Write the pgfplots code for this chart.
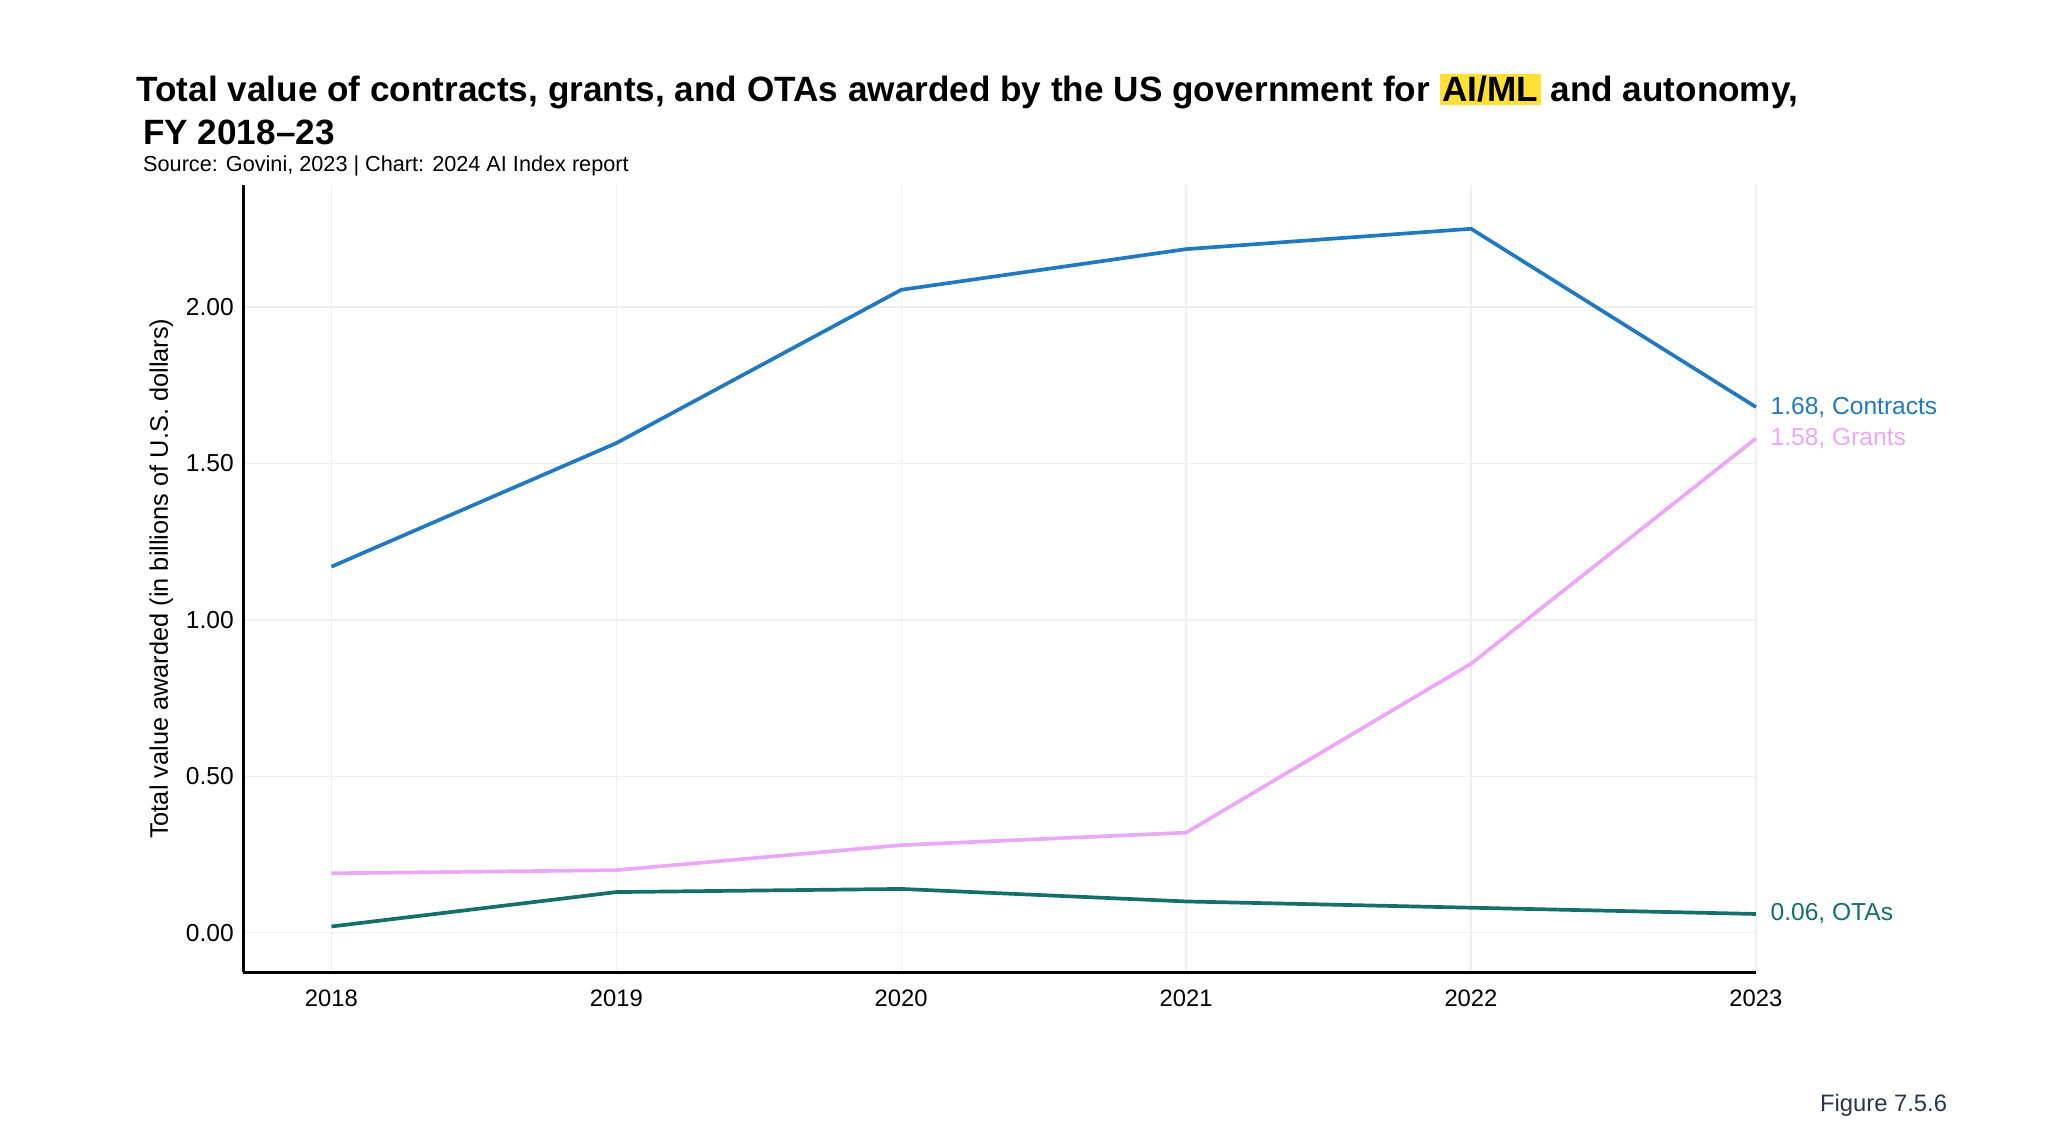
\documentclass[border=0pt]{standalone}
\usepackage{fontspec}
\setmainfont{Liberation Sans}
\usepackage{pgfplots}
\pgfplotsset{compat=1.18}

\definecolor{contracts}{HTML}{2279BF}
\definecolor{grants}{HTML}{EBA8F7}
\definecolor{otas}{HTML}{156F6B}
\definecolor{hl}{HTML}{FFE135}
\definecolor{gridc}{HTML}{EFEFEF}
\definecolor{figc}{HTML}{2B3645}

\begin{document}
\begin{tikzpicture}
\path[use as bounding box] (0,0) rectangle (775pt,-427.5pt);

% title block
\node[anchor=base west, inner sep=0pt, font=\bfseries\fontsize{13.3}{16}\selectfont]
  at (51.5pt,-38.5pt) {Total value of contracts, grants, and OTAs awarded by the US government for {\setlength{\fboxsep}{1pt}\colorbox{hl}{AI/ML}} and autonomy,};
\node[anchor=base west, inner sep=0pt, font=\bfseries\fontsize{13.3}{16}\selectfont]
  at (54pt,-54.5pt) {FY 2018--23};
\node[anchor=base west, inner sep=0pt, font=\fontsize{8.2}{10}\selectfont]
  at (54pt,-65pt) {Source: Govini, 2023 | Chart: 2024 AI Index report};

\begin{axis}[
    at={(92pt,-368pt)}, anchor=south west,
    scale only axis,
    width=572.5pt, height=298pt,
    xmin=2017.69, xmax=2023,
    ymin=-0.127, ymax=2.39,
    axis x line*=bottom, axis y line*=left,
    axis line style={-, black, line width=1.1pt},
    xtick={2018,...,2023},
    ytick={0,0.5,1,1.5,2},
    major tick length=0pt,
    grid=major,
    major grid style={gridc, line width=0.5pt},
    /pgf/number format/assume math mode=true,
    xticklabel style={/pgf/number format/1000 sep={}, font=\fontsize{9}{11}\selectfont, yshift=-3pt},
    yticklabel style={/pgf/number format/fixed, /pgf/number format/fixed zerofill, /pgf/number format/precision=2, font=\fontsize{9.3}{11}\selectfont},
    ylabel={Total value awarded (in billions of U.S. dollars)},
    ylabel style={font=\fontsize{9.6}{11}\selectfont, yshift=-2pt},
    clip=false,
  ]
  \addplot[contracts, line width=1.4pt] coordinates {
    (2018,1.17) (2019,1.565) (2020,2.055) (2021,2.185) (2022,2.25) (2023,1.68)
  };
  \addplot[grants, line width=1.4pt] coordinates {
    (2018,0.19) (2019,0.20) (2020,0.28) (2021,0.32) (2022,0.86) (2023,1.58)
  };
  \addplot[otas, line width=1.4pt] coordinates {
    (2018,0.02) (2019,0.13) (2020,0.14) (2021,0.10) (2022,0.08) (2023,0.06)
  };
  \node[anchor=west, text=contracts, font=\fontsize{9.3}{11}\selectfont, xshift=2pt] at (axis cs:2023,1.68) {1.68, Contracts};
  \node[anchor=west, text=grants, font=\fontsize{9.3}{11}\selectfont, xshift=2pt] at (axis cs:2023,1.58) {1.58, Grants};
  \node[anchor=west, text=otas, font=\fontsize{9.3}{11}\selectfont, xshift=2pt] at (axis cs:2023,0.06) {0.06, OTAs};
\end{axis}

\node[anchor=base east, inner sep=0pt, text=figc, font=\fontsize{9}{11}\selectfont]
  at (737pt,-420.5pt) {Figure 7.5.6};
\end{tikzpicture}
\end{document}
